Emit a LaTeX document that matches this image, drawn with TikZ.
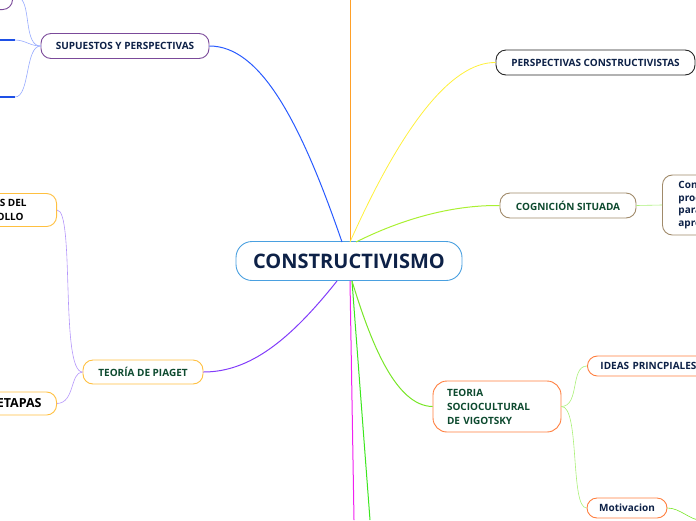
\documentclass[tikz,border=0pt]{standalone}
\usepackage{fontspec}
\setmainfont{Open Sans}
\begin{document}
\begin{tikzpicture}[x=1pt,y=-1pt,
  box/.style={draw,rounded corners=10pt,fill=white,line width=0.9pt,font=\bfseries\fontsize{10}{12}\selectfont,text=navy,inner sep=0pt},
  link/.style={line width=1pt}]
\definecolor{navy}{HTML}{0D2147}
\definecolor{dgreen}{HTML}{0D4A2F}
\definecolor{corange}{HTML}{FFA028}
\definecolor{cmag}{HTML}{F020F0}
\definecolor{cgreen}{HTML}{3CE61E}
\definecolor{cblue}{HTML}{285AFF}
\definecolor{cyellow}{HTML}{FFF03C}
\definecolor{clime}{HTML}{AAF032}
\definecolor{cgreen2}{HTML}{78E628}
\definecolor{cpurple}{HTML}{823CFA}
\definecolor{lblue}{HTML}{96AAFF}
\definecolor{lpurple}{HTML}{B496FA}
\definecolor{lgreen}{HTML}{AAF078}
\definecolor{bcenter}{HTML}{4AA0E0}
\definecolor{bpurple}{HTML}{7B4A9A}
\definecolor{bbrown}{HTML}{A08A6A}
\definecolor{borange}{HTML}{FF7F3F}
\definecolor{byellow}{HTML}{FFC040}
\definecolor{leaf}{HTML}{1E50E6}
\useasboundingbox (0,0) rectangle (696,520);
\clip (0,0) rectangle (696,520);
\coordinate (ctop) at (350,242);
\coordinate (ctopl) at (342,242);
\coordinate (ctopr) at (356,242);
\coordinate (cbot) at (352,281);
\coordinate (cbotl) at (337,281);
\coordinate (otop) at (350,0);
\coordinate (mend) at (354,520);
\coordinate (gend) at (370,520);
\coordinate (mst) at (350,281);
\draw[link,corange] (otop) -- (ctop);
\draw[link,cmag] (mst) -- (mend);
\draw[link,cgreen] (cbot) -- (gend);
\node[box,draw=bcenter,minimum width=226pt,minimum height=39pt,rounded corners=16pt,font=\bfseries\fontsize{20}{24}\selectfont] (c) at (349,261) {CONSTRUCTIVISMO};
\node[box,draw=bpurple,minimum width=168pt,minimum height=25pt] (sup) at (125,46) {SUPUESTOS Y PERSPECTIVAS};
\node[box,draw=black!85,minimum width=199pt,minimum height=25pt] (per) at (595.5,62.5) {PERSPECTIVAS CONSTRUCTIVISTAS};
\node[box,draw=bbrown,text=dgreen,minimum width=136pt,minimum height=25pt] (cog) at (568,205.5) {COGNICIÓN SITUADA};
\node[box,draw=bbrown,anchor=west,minimum height=60pt,align=left,inner xsep=16pt,font=\bfseries\fontsize{10}{12.5}\selectfont] (con) at (662,205) {Conocimiento\\procesos\\para el\\aprendizaje};
\node[box,draw=borange,text=dgreen,minimum width=128pt,minimum height=51pt,align=left,text width=100pt,font=\bfseries\fontsize{10}{14}\selectfont,rounded corners=14pt] (vig) at (497,406.5) {TEORIA\\SOCIOCULTURAL\\DE VIGOTSKY};
\node[box,draw=borange,anchor=west,minimum height=20pt,inner xsep=13pt,minimum width=130pt,text width=104pt,align=left] (ide) at (587,366) {IDEAS PRINCPIALES};
\node[box,draw=borange,minimum width=80pt,minimum height=20pt] (mot) at (627,508) {Motivacion};
\node[box,draw=byellow,text=dgreen,minimum width=120pt,minimum height=24pt] (pia) at (143,372) {TEORÍA DE PIAGET};
\node[box,draw=byellow,text=black,anchor=east,minimum height=23pt,inner xsep=15pt,font=\bfseries\fontsize{12.5}{14}\selectfont] (eta) at (57,403.5) {LAS ETAPAS};
\node[box,draw=byellow,text=black,anchor=east,minimum height=33pt,inner xsep=30pt,align=left,font=\bfseries\fontsize{10}{14}\selectfont] (est) at (57,210) {ESTADIOS DEL\\DESARROLLO};
\node[box,draw=bpurple,anchor=south east,minimum width=60pt,minimum height=30pt] (tl) at (13,10) {};
\coordinate (l1) at (0,40); \coordinate (l1e) at (15,40);
\coordinate (l2) at (0,97); \coordinate (l2e) at (15,97);
\coordinate (tlc) at (22,0);
\coordinate (mo) at (700,520);
\draw[line width=1.2pt,leaf] (l1) -- (l1e) (l2) -- (l2e);
\draw[link,cblue] (ctopl) .. controls (300,120) and (260,46) .. (sup.east);
\draw[link,cyellow,line width=0.8pt] (ctop) .. controls (400,130) and (450,62) .. (per.west);
\draw[link,clime] (ctopr) .. controls (400,220) and (450,205) .. (cog.west);
\draw[link,cgreen2] (cbot) .. controls (370,340) and (395,406) .. (vig.west);
\draw[link,cpurple] (cbotl) .. controls (290,340) and (250,372) .. (pia.east);
\tikzset{sub/.style={line width=0.6pt}}
\draw[sub,lblue] (sup.west) .. controls (25,46) and (30,10) .. (tlc);
\draw[sub,lblue] (sup.west) .. controls (30,46) and (25,40) .. (l1e);
\draw[sub,lblue] (sup.west) .. controls (25,46) and (30,97) .. (l2e);
\draw[sub,lpurple] (pia.west) .. controls (60,372) and (75,210) .. (est.east);
\draw[sub,lpurple] (pia.west) .. controls (70,372) and (75,403) .. (eta.east);
\draw[sub,lgreen] (vig.east) .. controls (580,406) and (570,366) .. (ide.west);
\draw[sub,lgreen] (vig.east) .. controls (580,406) and (570,508) .. (mot.west);
\draw[sub,lgreen] (cog.east) -- (con.west);
\draw[sub,cgreen2] (mot.east) .. controls (680,508) and (690,520) .. (mo);
\end{tikzpicture}
\end{document}
